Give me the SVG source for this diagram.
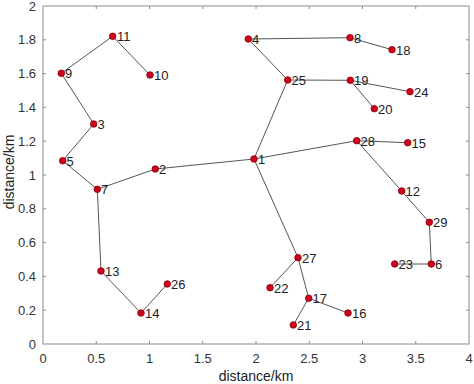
<svg xmlns="http://www.w3.org/2000/svg" width="474" height="384" viewBox="0 0 474 384">
<style>
.ax{stroke:#8c8c8c;stroke-width:1;fill:none}
.tk{font-family:"Liberation Sans",Arial,sans-serif;font-size:13px;fill:#333}
.lb{font-family:"Liberation Sans",Arial,sans-serif;font-size:14px;fill:#222}
.e{stroke:#555;stroke-width:1;fill:none}
.n circle{fill:#d0021b;stroke:#8a0012;stroke-width:0.8}
.n text{font-family:"Liberation Sans",Arial,sans-serif;font-size:13px;fill:#222}
</style>
<rect width="474" height="384" fill="#fff"/>
<g id="axes">
<rect class="ax" x="43" y="6" width="426" height="338"/>
<path class="ax" d="M96.25 344v-3M149.5 344v-3M202.75 344v-3M256 344v-3M309.25 344v-3M362.5 344v-3M415.75 344v-3M96.25 6v3M149.5 6v3M202.75 6v3M256 6v3M309.25 6v3M362.5 6v3M415.75 6v3M43 310.2h3M43 276.4h3M43 242.6h3M43 208.8h3M43 175h3M43 141.2h3M43 107.4h3M43 73.6h3M43 39.8h3M469 310.2h-3M469 276.4h-3M469 242.6h-3M469 208.8h-3M469 175h-3M469 141.2h-3M469 107.4h-3M469 73.6h-3M469 39.8h-3"/>
<g class="tk" text-anchor="middle">
<text x="43" y="363">0</text><text x="96.25" y="363">0.5</text><text x="149.5" y="363">1</text><text x="202.75" y="363">1.5</text><text x="256" y="363">2</text><text x="309.25" y="363">2.5</text><text x="362.5" y="363">3</text><text x="415.75" y="363">3.5</text><text x="469" y="363">4</text>
</g>
<g class="tk" text-anchor="end">
<text x="36" y="348.5">0</text><text x="36" y="314.7">0.2</text><text x="36" y="280.9">0.4</text><text x="36" y="247.1">0.6</text><text x="36" y="213.3">0.8</text><text x="36" y="179.5">1</text><text x="36" y="145.7">1.2</text><text x="36" y="111.9">1.4</text><text x="36" y="78.1">1.6</text><text x="36" y="44.3">1.8</text><text x="36" y="10.5">2</text>
</g>
<text class="lb" x="256" y="381" text-anchor="middle">distance/km</text>
<text class="lb" transform="translate(14,172) rotate(-90)" text-anchor="middle">distance/km</text>
</g>
<g id="connectors">
<path class="e" d="M112.7 36.3L61.3 73.3M112.7 36.3L150 75M61.3 73.3L93.7 124M93.7 124L62.7 160.7M62.7 160.7L97.3 189.3M97.3 189.3L155.3 169M155.3 169L254 159M97.3 189.3L101 271M101 271L141 313M141 313L167.3 284M254 159L287.7 80M287.7 80L248.3 39M248.3 39L350 37.7M350 37.7L392 49.7M287.7 80L350.3 80.3M350.3 80.3L410 91.7M350.3 80.3L374.3 108.7M254 159L356.7 140.7M356.7 140.7L407.7 142.7M356.7 140.7L401.7 191M401.7 191L429.3 222.3M429.3 222.3L431.3 264M431.3 264L394.7 264M254 159L298 257.7M298 257.7L270 287.7M298 257.7L308.7 298.3M308.7 298.3L348 313M308.7 298.3L293.3 325"/>
</g>
<g class="n">
<g id="n1"><circle cx="254" cy="159" r="3.3"/><text x="258" y="164">1</text></g>
<g id="n2"><circle cx="155.3" cy="169" r="3.3"/><text x="159" y="174">2</text></g>
<g id="n3"><circle cx="93.7" cy="124" r="3.3"/><text x="97.5" y="129">3</text></g>
<g id="n4"><circle cx="248.3" cy="39" r="3.3"/><text x="252" y="44">4</text></g>
<g id="n5"><circle cx="62.7" cy="160.7" r="3.3"/><text x="66.5" y="165.7">5</text></g>
<g id="n6"><circle cx="431.3" cy="264" r="3.3"/><text x="435" y="269">6</text></g>
<g id="n7"><circle cx="97.3" cy="189.3" r="3.3"/><text x="101" y="194.3">7</text></g>
<g id="n8"><circle cx="350" cy="37.7" r="3.3"/><text x="354" y="42.7">8</text></g>
<g id="n9"><circle cx="61.3" cy="73.3" r="3.3"/><text x="65" y="78.3">9</text></g>
<g id="n10"><circle cx="150" cy="75" r="3.3"/><text x="154" y="80">10</text></g>
<g id="n11"><circle cx="112.7" cy="36.3" r="3.3"/><text x="117" y="41">11</text></g>
<g id="n12"><circle cx="401.7" cy="191" r="3.3"/><text x="405.5" y="196">12</text></g>
<g id="n13"><circle cx="101" cy="271" r="3.3"/><text x="105" y="276">13</text></g>
<g id="n14"><circle cx="141" cy="313" r="3.3"/><text x="145" y="318">14</text></g>
<g id="n15"><circle cx="407.7" cy="142.7" r="3.3"/><text x="411.5" y="147.7">15</text></g>
<g id="n16"><circle cx="348" cy="313" r="3.3"/><text x="352" y="318">16</text></g>
<g id="n17"><circle cx="308.7" cy="298.3" r="3.3"/><text x="312.5" y="303.3">17</text></g>
<g id="n18"><circle cx="392" cy="49.7" r="3.3"/><text x="396" y="54.7">18</text></g>
<g id="n19"><circle cx="350.3" cy="80.3" r="3.3"/><text x="354" y="85.3">19</text></g>
<g id="n20"><circle cx="374.3" cy="108.7" r="3.3"/><text x="378" y="113.7">20</text></g>
<g id="n21"><circle cx="293.3" cy="325" r="3.3"/><text x="297" y="330">21</text></g>
<g id="n22"><circle cx="270" cy="287.7" r="3.3"/><text x="274" y="292.7">22</text></g>
<g id="n23"><circle cx="394.7" cy="264" r="3.3"/><text x="398.5" y="269">23</text></g>
<g id="n24"><circle cx="410" cy="91.7" r="3.3"/><text x="414" y="96.7">24</text></g>
<g id="n25"><circle cx="287.7" cy="80" r="3.3"/><text x="291.5" y="85">25</text></g>
<g id="n26"><circle cx="167.3" cy="284" r="3.3"/><text x="171" y="289">26</text></g>
<g id="n27"><circle cx="298" cy="257.7" r="3.3"/><text x="302" y="262.7">27</text></g>
<g id="n28"><circle cx="356.7" cy="140.7" r="3.3"/><text x="360.5" y="145.7">28</text></g>
<g id="n29"><circle cx="429.3" cy="222.3" r="3.3"/><text x="433" y="227.3">29</text></g>
</g>
</svg>
